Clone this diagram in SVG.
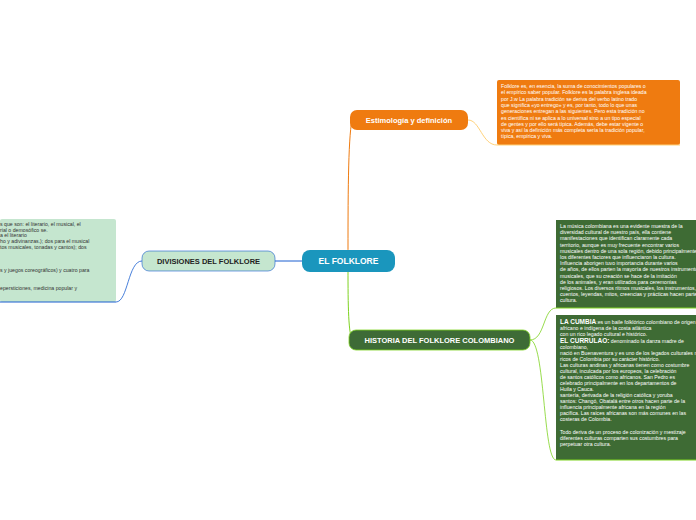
<svg xmlns="http://www.w3.org/2000/svg" width="696" height="520" viewBox="0 0 696 520">
<style>
.t{font-family:"Liberation Sans",Arial,sans-serif;font-size:5.2px}
.w{fill:#fff}.d{fill:#333}
.lbl{font-family:"Liberation Sans",Arial,sans-serif;font-size:7.5px;font-weight:bold;text-anchor:middle}
</style>
<rect width="696" height="520" fill="#fff"/>
<g id="connectors" fill="none">
<path d="M348,261 C348,200 348,140 352,120" stroke="#ef7b10" stroke-width="1"/>
<path d="M348,261 C348,300 348,330 352,340" stroke="#7ed321" stroke-width="1"/>
<path d="M302,261 L275,261" stroke="#1a5fd0" stroke-width="1"/>
<path d="M468,120 C480,120 482,145 497,145" stroke="#ffd27a" stroke-width="1"/>
<path d="M142,261 C128,261 128,302 116,302" stroke="#1a5fd0" stroke-width="0.8"/>
<path d="M530,340 C545,340 543,308 556,308" stroke="#7ed321" stroke-width="0.8"/>
<path d="M530,340 C545,340 543,460 556,460" stroke="#7ed321" stroke-width="0.8"/>
</g>
<g id="center">
<rect x="302" y="250" width="93" height="22" rx="8" fill="#1a96bd"/>
<text class="lbl w" x="348.5" y="264" style="font-size:8.5px">EL FOLKLORE</text>
</g>
<g id="etimologia">
<rect x="350" y="110" width="118" height="20" rx="7" fill="#ef7b10"/>
<text class="lbl w" x="409" y="123">Estimología y definición</text>
</g>
<g id="etimologia-text">
<rect x="497" y="80" width="183" height="65" rx="2" fill="#ef7b10"/>
<line x1="497" y1="145" x2="680" y2="145" stroke="#ffd27a"/>
<text class="t w" x="501" y="88">Folklore es, en esencia, la suma de conocimientos populares o</text>
<text class="t w" x="501" y="94.3">el empírico saber popular. Folklore es la palabra inglesa ideada</text>
<text class="t w" x="501" y="100.6">por J.w La palabra tradición se deriva del verbo latino trado</text>
<text class="t w" x="501" y="106.9">que significa «yo entrego» y es, por tanto, todo lo que unas</text>
<text class="t w" x="501" y="113.2">generaciones entregan a las siguientes. Pero esta tradición no</text>
<text class="t w" x="501" y="119.5">es científica ni se aplica a lo universal sino a un tipo especial</text>
<text class="t w" x="501" y="125.8">de gentes y por ello será típica. Además, debe estar vigente o</text>
<text class="t w" x="501" y="132.1">viva y así la definición más completa sería la tradición popular,</text>
<text class="t w" x="501" y="138.4">típica, empírica y viva.</text>
</g>
<g id="divisiones">
<rect x="142" y="251" width="133" height="20" rx="7" fill="#c5e6cf" stroke="#1a5fd0" stroke-width="0.6"/>
<text class="lbl" x="208.5" y="264" fill="#222">DIVISIONES DEL FOLKLORE</text>
</g>
<g id="divisiones-text">
<rect x="0" y="219" width="116" height="83" rx="2" fill="#c5e6cf"/>
<line x1="0" y1="302" x2="116" y2="302" stroke="#1a5fd0"/>
<text class="t d" x="0" y="226">s que son: el literario, el musical, el</text>
<text class="t d" x="0" y="231.7">rial o demosófico se.</text>
<text class="t d" x="0" y="237.4">a el literario</text>
<text class="t d" x="0" y="243.1">ho y adivinanzas.); dos para el musical</text>
<text class="t d" x="0" y="248.8">tos musicales, tonadas y cantos); dos</text>
<text class="t d" x="0" y="271.5">s y juegos coreográficos) y cuatro para</text>
<text class="t d" x="0" y="290">epersticiones, medicina popular y</text>
</g>
<g id="historia">
<rect x="349" y="330" width="181" height="20" rx="7" fill="#3e6b36" stroke="#7ed321" stroke-width="0.8"/>
<text class="lbl w" x="439.5" y="343">HISTORIA DEL FOLKLORE COLOMBIANO</text>
</g>
<g id="historia-text1">
<rect x="556" y="220" width="140" height="88" fill="#3e6b34"/>
<line x1="556" y1="308" x2="696" y2="308" stroke="#7ed321" stroke-width="1.2"/>
<text class="t w" x="560" y="228">La música colombiana es una evidente muestra de la</text>
<text class="t w" x="560" y="234.2">diversidad cultural de nuestro país, ella contiene</text>
<text class="t w" x="560" y="240.4">manifestaciones que identifican claramente cada</text>
<text class="t w" x="560" y="246.6">territorio, aunque es muy frecuente encontrar varios</text>
<text class="t w" x="560" y="252.8">musicales dentro de una sola región, debido principalmente a</text>
<text class="t w" x="560" y="259">los diferentes factores que influenciaron la cultura.</text>
<text class="t w" x="560" y="265.2">Influencia aborigen tuvo importancia durante varios</text>
<text class="t w" x="560" y="271.4">de años, de ellos parten la mayoría de nuestros instrumentos</text>
<text class="t w" x="560" y="277.6">musicales, que su creación se hace de la imitación</text>
<text class="t w" x="560" y="283.8">de los animales, y eran utilizados para ceremonias</text>
<text class="t w" x="560" y="290">religiosos. Los diversos ritmos musicales, los instrumentos,</text>
<text class="t w" x="560" y="296.2">cuentos, leyendas, mitos, creencias y prácticas hacen parte de la</text>
<text class="t w" x="560" y="302.4">cultura.</text>
</g>
<g id="historia-text2">
<rect x="556" y="315" width="140" height="145" fill="#3e6b34"/>
<line x1="556" y1="460" x2="696" y2="460" stroke="#7ed321" stroke-width="1.2"/>
<text class="t w" x="560" y="324"><tspan font-weight="bold" font-size="6.5px">LA CUMBIA</tspan>:es un baile folklórico colombiano de origen</text>
<text class="t w" x="560" y="330">africano e indígena de la costa atlántica</text>
<text class="t w" x="560" y="336">con un rico legado cultural e histórico.</text>
<text class="t w" x="560" y="342.5"><tspan font-weight="bold" font-size="6.5px">EL CURRULAO:</tspan> denominado la danza madre de</text>
<text class="t w" x="560" y="348.5">colombiano,</text>
<text class="t w" x="560" y="354.5">nació en Buenaventura y es uno de los legados culturales más</text>
<text class="t w" x="560" y="360.5">ricos de Colombia por su carácter histórico.</text>
<text class="t w" x="560" y="366.5">Las culturas andinas y africanas tienen como costumbre</text>
<text class="t w" x="560" y="372.5">cultural, inculcada por los europeos, la celebración</text>
<text class="t w" x="560" y="378.5">de santos católicos como africanos. San Pedro es</text>
<text class="t w" x="560" y="384.5">celebrado principalmente en los departamentos de</text>
<text class="t w" x="560" y="390.5">Huila y Cauca.</text>
<text class="t w" x="560" y="396.5">santería, derivada de la religión católica y yoruba</text>
<text class="t w" x="560" y="402.5">santos: Changó, Obatalá entre otros hacen parte de la</text>
<text class="t w" x="560" y="408.5">influencia principalmente africana en la región</text>
<text class="t w" x="560" y="414.5">pacífica. Las raíces africanas son más comunes en las</text>
<text class="t w" x="560" y="420.5">costeras de Colombia.</text>
<text class="t w" x="560" y="434">Todo deriva de un proceso de colonización y mestizaje</text>
<text class="t w" x="560" y="440">diferentes culturas comparten sus costumbres para</text>
<text class="t w" x="560" y="446">perpetuar otra cultura.</text>
</g>
</svg>
